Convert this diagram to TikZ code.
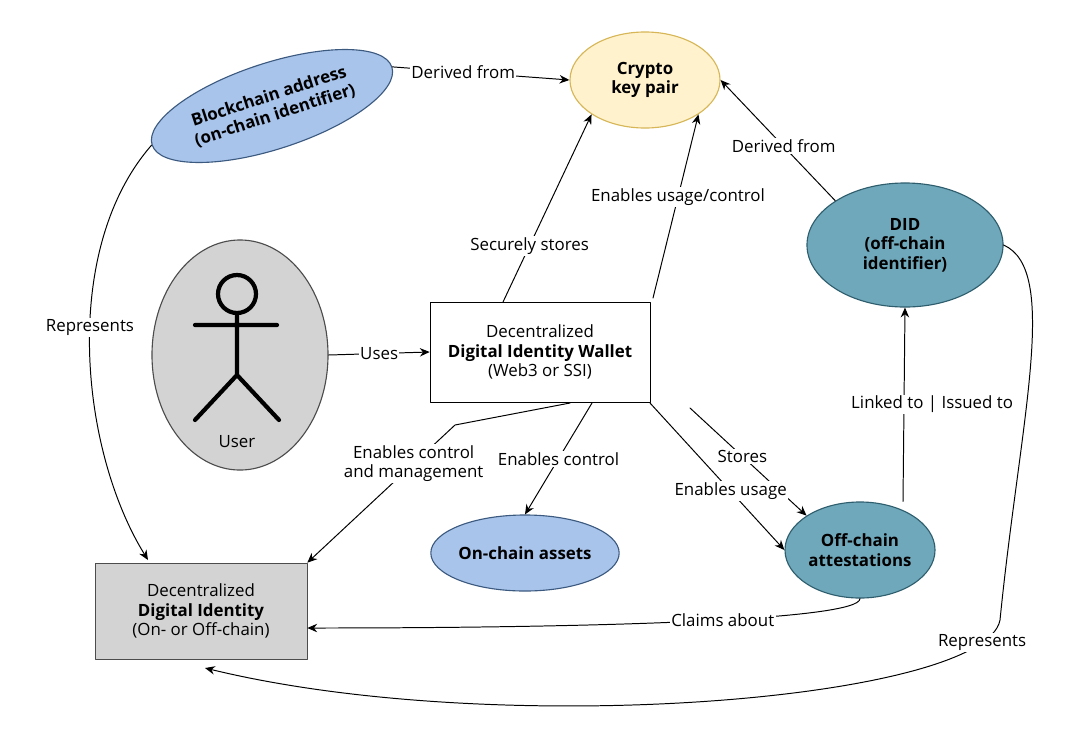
\documentclass[tikz,border=0pt]{standalone}
\usepackage{fontspec}
\setmainfont{Open Sans}
\usetikzlibrary{shapes.geometric, arrows.meta}
\definecolor{keyfill}{HTML}{FFF2CC}
\definecolor{keyline}{HTML}{D6B656}
\definecolor{chainfill}{HTML}{A9C4EB}
\definecolor{chainline}{HTML}{3C5A80}
\definecolor{didfill}{HTML}{6FA8BA}
\definecolor{didline}{HTML}{2E5E6E}
\definecolor{greyfill}{HTML}{D3D3D3}
\tikzset{
  every node/.style={font=\large},
  blob/.style={ellipse, draw, thick, align=center, font=\large\bfseries, inner sep=0pt},
  box/.style={rectangle, draw, align=center, inner sep=0pt},
  link/.style={-{Stealth[length=7pt,width=6pt]}, line width=0.7pt},
  lbl/.style={fill=white, inner sep=1pt}
}
\begin{document}
\begin{tikzpicture}[x=0.025cm, y=-0.025cm, line join=round, line cap=round]
  \useasboundingbox (0,0) rectangle (1078,745);

  % nodes
  \node[blob, fill=keyfill, draw=keyline, minimum width=3.75cm, minimum height=2.4cm] (key) at (645,80) {Crypto\\key pair};
  \node[blob, fill=chainfill, draw=chainline, minimum width=6.3cm, minimum height=2.15cm, rotate=18] (addr) at (272,106) {Blockchain address\\(on-chain identifier)};
  \node[blob, fill=greyfill, draw=black!70, minimum width=4.4cm, minimum height=5.75cm] (user) at (240,355) {};
  \node[box, fill=white, minimum width=5.5cm, minimum height=2.5cm] (wallet) at (540,352) {Decentralized\\\textbf{Digital Identity Wallet}\\(Web3 or SSI)};
  \node[blob, fill=didfill, draw=didline, minimum width=4.9cm, minimum height=3.1cm] (did) at (905,245) {DID\\(off-chain\\identifier)};
  \node[blob, fill=didfill, draw=didline, minimum width=3.75cm, minimum height=2.4cm] (att) at (860,550) {Off-chain\\attestations};
  \node[blob, fill=chainfill, draw=chainline, minimum width=4.25cm, minimum height=1.9cm] (assets) at (525,553) {On-chain assets};
  \node[box, fill=greyfill, draw=black!70, minimum width=5.3cm, minimum height=2.4cm] (ident) at (201,611) {Decentralized\\\textbf{Digital Identity}\\(On- or Off-chain)};

  % stick figure
  \draw[line width=3pt] (237,294) circle [radius=19];
  \draw[line width=3pt] (237,313) -- (237,375) (195,325) -- (277,325)
    (195,420) -- (237,375) -- (279,420);
  \node (userlbl) at (237,442) {User};

  % connector ends on the wallet
  \coordinate (w1) at (503,302);
  \coordinate (w2) at (653,298);
  \coordinate (w3) at (570,403);
  \coordinate (w4) at (592,403);
  \coordinate (w5) at (690,408);
  \coordinate (w6) at (650,403);

  % connectors
  \draw[link] (addr.east) -- (key.west) node[lbl, pos=0.4] {Derived from};
  \draw[link] (did.north west) -- (key.east) node[lbl, pos=0.45] {Derived from};
  \draw[link] (w1) -- (key.south west) node[lbl, pos=0.3] {Securely stores};
  \draw[link] (w2) -- (key.south east) node[lbl, pos=0.55] {Enables usage/control};
  \draw[link] (user.east) -- (wallet.west) node[lbl, midway] {Uses};
  \draw[link] (addr.west) .. controls (60,250) and (80,450) .. (148,560) node[lbl, pos=0.45] {Represents};
  \draw[link] (w3) -- (455,425) -- (ident.north east) node[lbl, pos=0.28, align=center] {Enables control\\and management};
  \draw[link] (w4) -- (assets.north) node[lbl, pos=0.5] {Enables control};
  \draw[link] (w5) -- (att.north west) node[lbl, pos=0.45] {Stores};
  \draw[link] (w6) -- (att.west) node[lbl, pos=0.6] {Enables usage};
  \draw[link] (att.north -| 903,0) -- (did.south) node[lbl, midway, xshift=20] {Linked to | Issued to};
  \draw[link] (att.south) .. controls (860,620) and (600,628) .. (ident.east |- 0,628) node[lbl, pos=0.45] {Claims about};
  \draw[link] (did.east) .. controls (1060,270) and (1020,420) .. (1000,620)
    .. controls (985,700) and (500,740) .. (205,668) node[lbl, pos=0.1] {Represents};
\end{tikzpicture}
\end{document}
